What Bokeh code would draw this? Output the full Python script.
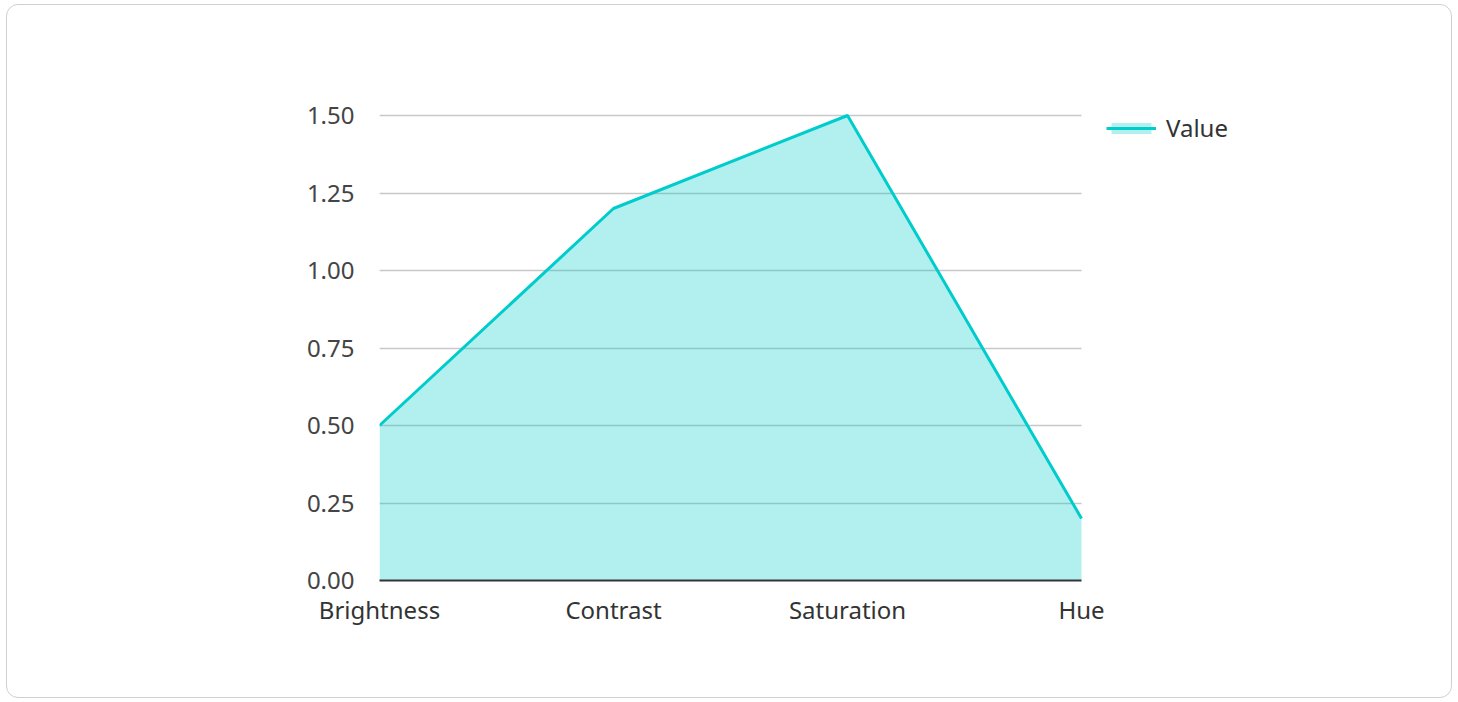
from bokeh.plotting import figure
from bokeh.models import FixedTicker, Legend, LegendItem, Range1d, PrintfTickFormatter
from bokeh.embed import file_html
from bokeh.resources import INLINE

categories = ["Brightness", "Contrast", "Saturation", "Hue"]
values = [0.5, 1.2, 1.5, 0.2]
y_ticks = [0, 0.25, 0.5, 0.75, 1.0, 1.25, 1.5]

xs = list(range(len(categories)))
x_last = len(categories) - 1
FONT = "Noto Sans"
COLOR = "#00cccc"
FS = "24px"

# frame spans plot area (702 x 465 px) plus room for the legend (right, top)
p = figure(width=1446, height=694, output_backend="svg", toolbar_location=None,
           x_range=Range1d(0, x_last * 920 / 702), y_range=Range1d(0, 1.5 * 495 / 465),
           min_border_left=372, min_border_right=154, min_border_top=80, min_border_bottom=119,
           styles={"border": "1.5px solid #d0d0d0", "border-radius": "12px", "background": "white",
                   "margin-left": "6px", "margin-top": "4px"})
p.outline_line_color = None
p.background_fill_color = "white"
p.border_fill_color = None

area = p.varea(x=xs, y1=[0] * len(xs), y2=values, fill_color=COLOR, fill_alpha=0.3)
line = p.line(x=xs, y=values, line_color=COLOR, line_width=3)

p.xaxis.ticker = FixedTicker(ticks=xs)
p.xaxis.bounds = (0, x_last)
p.xaxis.major_label_overrides = {i: c for i, c in enumerate(categories)}
p.xaxis.major_tick_line_color = None
p.xaxis.minor_tick_line_color = None
p.xaxis.major_tick_out = 0
p.xaxis.major_tick_in = 0
p.xaxis.axis_line_color = "#333333"
p.xaxis.axis_line_width = 2
p.xaxis.major_label_standoff = 12
p.xaxis.major_label_text_font = FONT
p.xaxis.major_label_text_font_size = FS
p.xaxis.major_label_text_color = "#333333"

p.yaxis.ticker = FixedTicker(ticks=y_ticks)
p.yaxis.formatter = PrintfTickFormatter(format="%.2f")
p.yaxis.axis_line_color = None
p.yaxis.major_tick_line_color = None
p.yaxis.minor_tick_line_color = None
p.yaxis.major_tick_out = 0
p.yaxis.major_tick_in = 0
p.yaxis.major_label_standoff = 25
p.yaxis.major_label_text_font = FONT
p.yaxis.major_label_text_font_size = FS
p.yaxis.major_label_text_color = "#444444"

p.xgrid.grid_line_color = None
p.ygrid.ticker = FixedTicker(ticks=y_ticks)
p.ygrid.cross_bounds = (0, x_last)
p.ygrid.grid_line_color = "#c8c8c8"
p.ygrid.grid_line_width = 1.3

legend = Legend(items=[LegendItem(label="Value", renderers=[area, line])],
                location=(727, 436), border_line_color=None, background_fill_alpha=0,
                label_text_font=FONT, label_text_font_size=FS,
                label_text_color="#333333", glyph_width=50, glyph_height=14,
                label_standoff=10, padding=0, margin=0)
p.add_layout(legend, "center")

open("out.html", "w").write(file_html(p, INLINE))
